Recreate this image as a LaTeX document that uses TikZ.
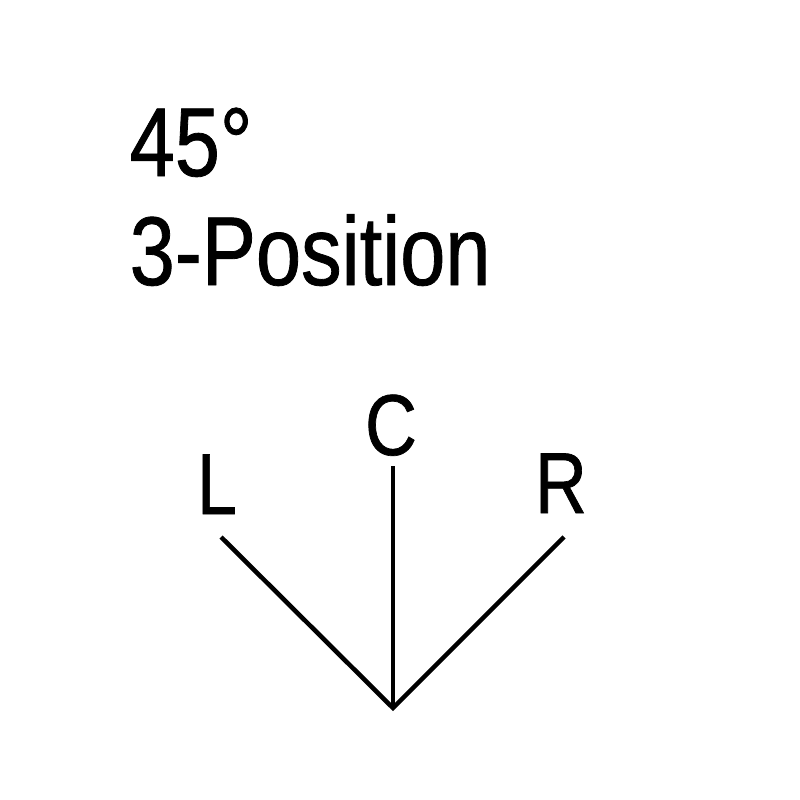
\documentclass[tikz,border=0pt]{standalone}
\usepackage{fontspec}
\setmainfont[FakeStretch=0.83,FakeBold=0.8]{Liberation Sans}
\begin{document}
\begin{tikzpicture}[x=0.01cm,y=-0.01cm,
  title/.style={font=\fontsize{27.8pt}{30pt}\selectfont, anchor=base west, inner sep=0pt},
  lbl/.style={font=\fontsize{24.6pt}{27pt}\selectfont, anchor=base, inner sep=0pt},
  arm/.style={line width=1.3pt, line cap=butt}]
\useasboundingbox (0,0) rectangle (800,800);
\node[title] (t1) at (129,176) {45°};
\node[title] (t2) at (129,285) {3-Position};
\node[lbl] (lL) at (217,514) {L};
\node[lbl] (lC) at (391,455) {C};
\node[lbl] (lR) at (561,513) {R};
\coordinate (apex) at (393,708);
\coordinate (topL) at (221,537);
\coordinate (topC) at (393,466);
\coordinate (topR) at (564,537);
\draw[arm, line join=miter] (topL) -- (apex) -- (topR);
\draw[arm] (topC) -- (apex);
\end{tikzpicture}
\end{document}
